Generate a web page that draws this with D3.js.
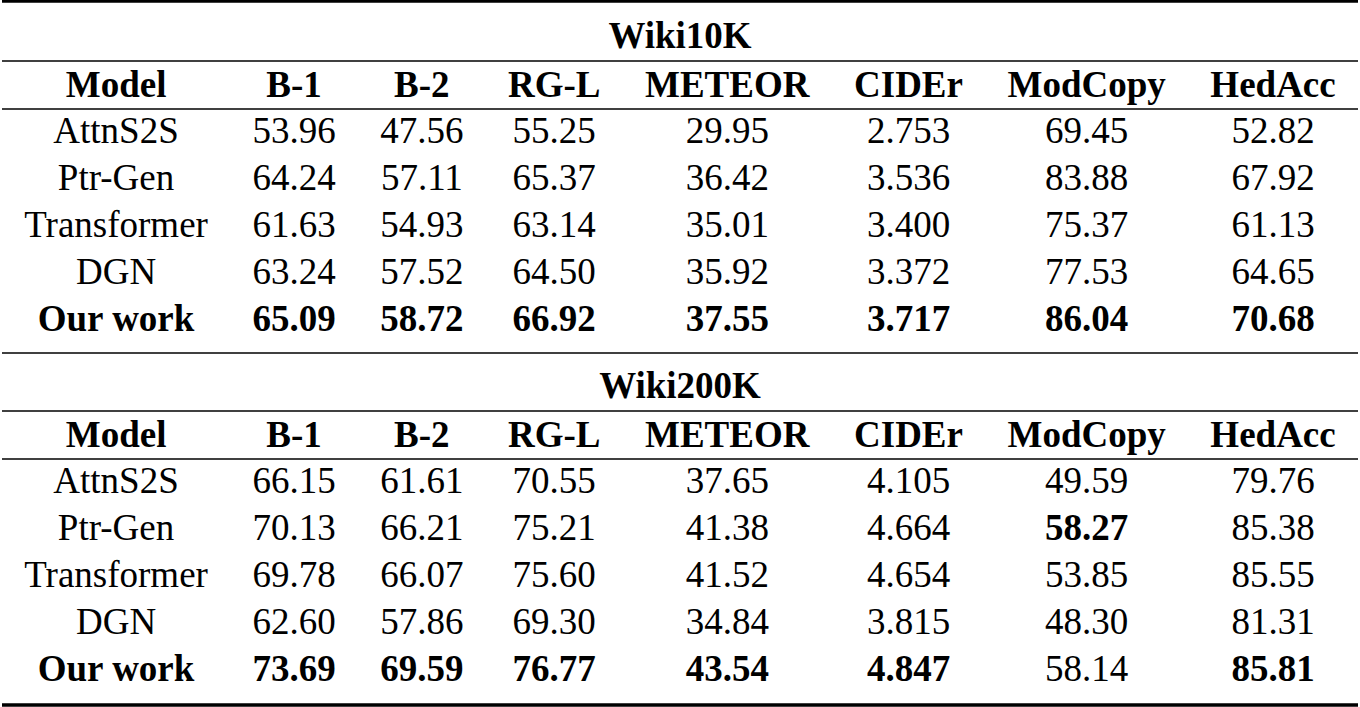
<!DOCTYPE html>
<html>
<head>
<meta charset="utf-8">
<script src="https://cdn.jsdelivr.net/npm/d3@7"></script>
<style>
  body { margin: 0; background: #fff; }
  svg { display: block; }
</style>
</head>
<body>
<svg></svg>
<script>
// table data
const columns = ["Model", "B-1", "B-2", "RG-L", "METEOR", "CIDEr", "ModCopy", "HedAcc"];
const models = ["AttnS2S", "Ptr-Gen", "Transformer", "DGN", "Our work"];

const wiki10k = [
  ["53.96", "47.56", "55.25", "29.95", "2.753", "69.45", "52.82"],
  ["64.24", "57.11", "65.37", "36.42", "3.536", "83.88", "67.92"],
  ["61.63", "54.93", "63.14", "35.01", "3.400", "75.37", "61.13"],
  ["63.24", "57.52", "64.50", "35.92", "3.372", "77.53", "64.65"],
  ["65.09", "58.72", "66.92", "37.55", "3.717", "86.04", "70.68"]
];
const wiki10kBold = [
  [0, 0, 0, 0, 0, 0, 0],
  [0, 0, 0, 0, 0, 0, 0],
  [0, 0, 0, 0, 0, 0, 0],
  [0, 0, 0, 0, 0, 0, 0],
  [1, 1, 1, 1, 1, 1, 1]
];

const wiki200k = [
  ["66.15", "61.61", "70.55", "37.65", "4.105", "49.59", "79.76"],
  ["70.13", "66.21", "75.21", "41.38", "4.664", "58.27", "85.38"],
  ["69.78", "66.07", "75.60", "41.52", "4.654", "53.85", "85.55"],
  ["62.60", "57.86", "69.30", "34.84", "3.815", "48.30", "81.31"],
  ["73.69", "69.59", "76.77", "43.54", "4.847", "58.14", "85.81"]
];
const wiki200kBold = [
  [0, 0, 0, 0, 0, 0, 0],
  [0, 0, 0, 0, 0, 1, 0],
  [0, 0, 0, 0, 0, 0, 0],
  [0, 0, 0, 0, 0, 0, 0],
  [1, 1, 1, 1, 1, 0, 1]
];

const sections = [
  { title: "Wiki10K", values: wiki10k, bold: wiki10kBold },
  { title: "Wiki200K", values: wiki200k, bold: wiki200kBold }
];

// page size and table constraints
const width = 1360;
const height = 707;
const tableLeft = 2;
const tableRight = 1358;
const fontSize = 37;
const sectionHeight = 350;
const fontFamily = "'Liberation Serif', 'Times New Roman', serif";

const svg = d3.select("svg")
  .attr("width", width)
  .attr("height", height)
  .style("font-family", fontFamily)
  .style("font-size", fontSize + "px");

// measure the widest text of every column, like latex sizes its columns
const probe = svg.append("text");
const measure = (txt, bold) => {
  probe.attr("font-weight", bold ? "bold" : "normal").text(txt);
  return probe.node().getComputedTextLength();
};

const colWidths = columns.map((c, i) => {
  let w = measure(c, true);
  sections.forEach(s => {
    s.values.forEach((row, r) => {
      const cell = i === 0 ? models[r] : row[i - 1];
      const bold = i === 0 ? r === models.length - 1 : s.bold[r][i - 1];
      w = Math.max(w, measure(cell, bold));
    });
  });
  return w;
});
probe.remove();

// spread the spare width evenly as column padding
const sep = (tableRight - tableLeft - d3.sum(colWidths)) / columns.length;
const colCenters = [];
let cursor = tableLeft;
colWidths.forEach(w => {
  colCenters.push(cursor + (sep + w) / 2);
  cursor += sep + w;
});

// set x
const x = d3.scaleOrdinal()
  .domain(columns)
  .range(colCenters);

// set y for data rows inside one section
const yRow = d3.scalePoint()
  .domain(models)
  .range([143, 331]);

// rules
const rule = (y, w) => svg.append("line")
  .attr("x1", tableLeft)
  .attr("x2", tableRight)
  .attr("y1", y)
  .attr("y2", y)
  .attr("stroke", "#000")
  .attr("stroke-width", w);

rule(1.4, 2.8);
rule(705, 3.6);

sections.forEach((s, si) => {
  const g = svg.append("g")
    .attr("transform", `translate(0, ${si * sectionHeight})`);

  // section title
  g.append("text")
    .attr("x", (tableLeft + tableRight) / 2)
    .attr("y", 48)
    .attr("text-anchor", "middle")
    .attr("font-weight", "bold")
    .text(s.title);

  // thin rules around the header
  [61, 109, 353].forEach(yy => {
    if (si === 1 && yy === 353) return;
    g.append("line")
      .attr("x1", tableLeft)
      .attr("x2", tableRight)
      .attr("y1", yy)
      .attr("y2", yy)
      .attr("stroke", "#000")
      .attr("stroke-width", 1.4);
  });

  // header labels
  g.selectAll(".head")
    .data(columns).enter().append("text")
    .attr("class", "head")
    .attr("x", d => x(d))
    .attr("y", 97)
    .attr("text-anchor", "middle")
    .attr("font-weight", "bold")
    .text(d => d);

  // body rows
  const rows = g.selectAll(".row")
    .data(models).enter().append("g")
    .attr("class", "row")
    .attr("transform", d => `translate(0, ${yRow(d)})`);

  rows.append("text")
    .attr("x", x("Model"))
    .attr("text-anchor", "middle")
    .attr("font-weight", (d, i) => i === models.length - 1 ? "bold" : "normal")
    .text(d => d);

  rows.each(function (d, r) {
    d3.select(this).selectAll(".cell")
      .data(s.values[r]).enter().append("text")
      .attr("class", "cell")
      .attr("x", (v, i) => x(columns[i + 1]))
      .attr("text-anchor", "middle")
      .attr("font-weight", (v, i) => s.bold[r][i] ? "bold" : "normal")
      .text(v => v);
  });
});
</script>
</body>
</html>
